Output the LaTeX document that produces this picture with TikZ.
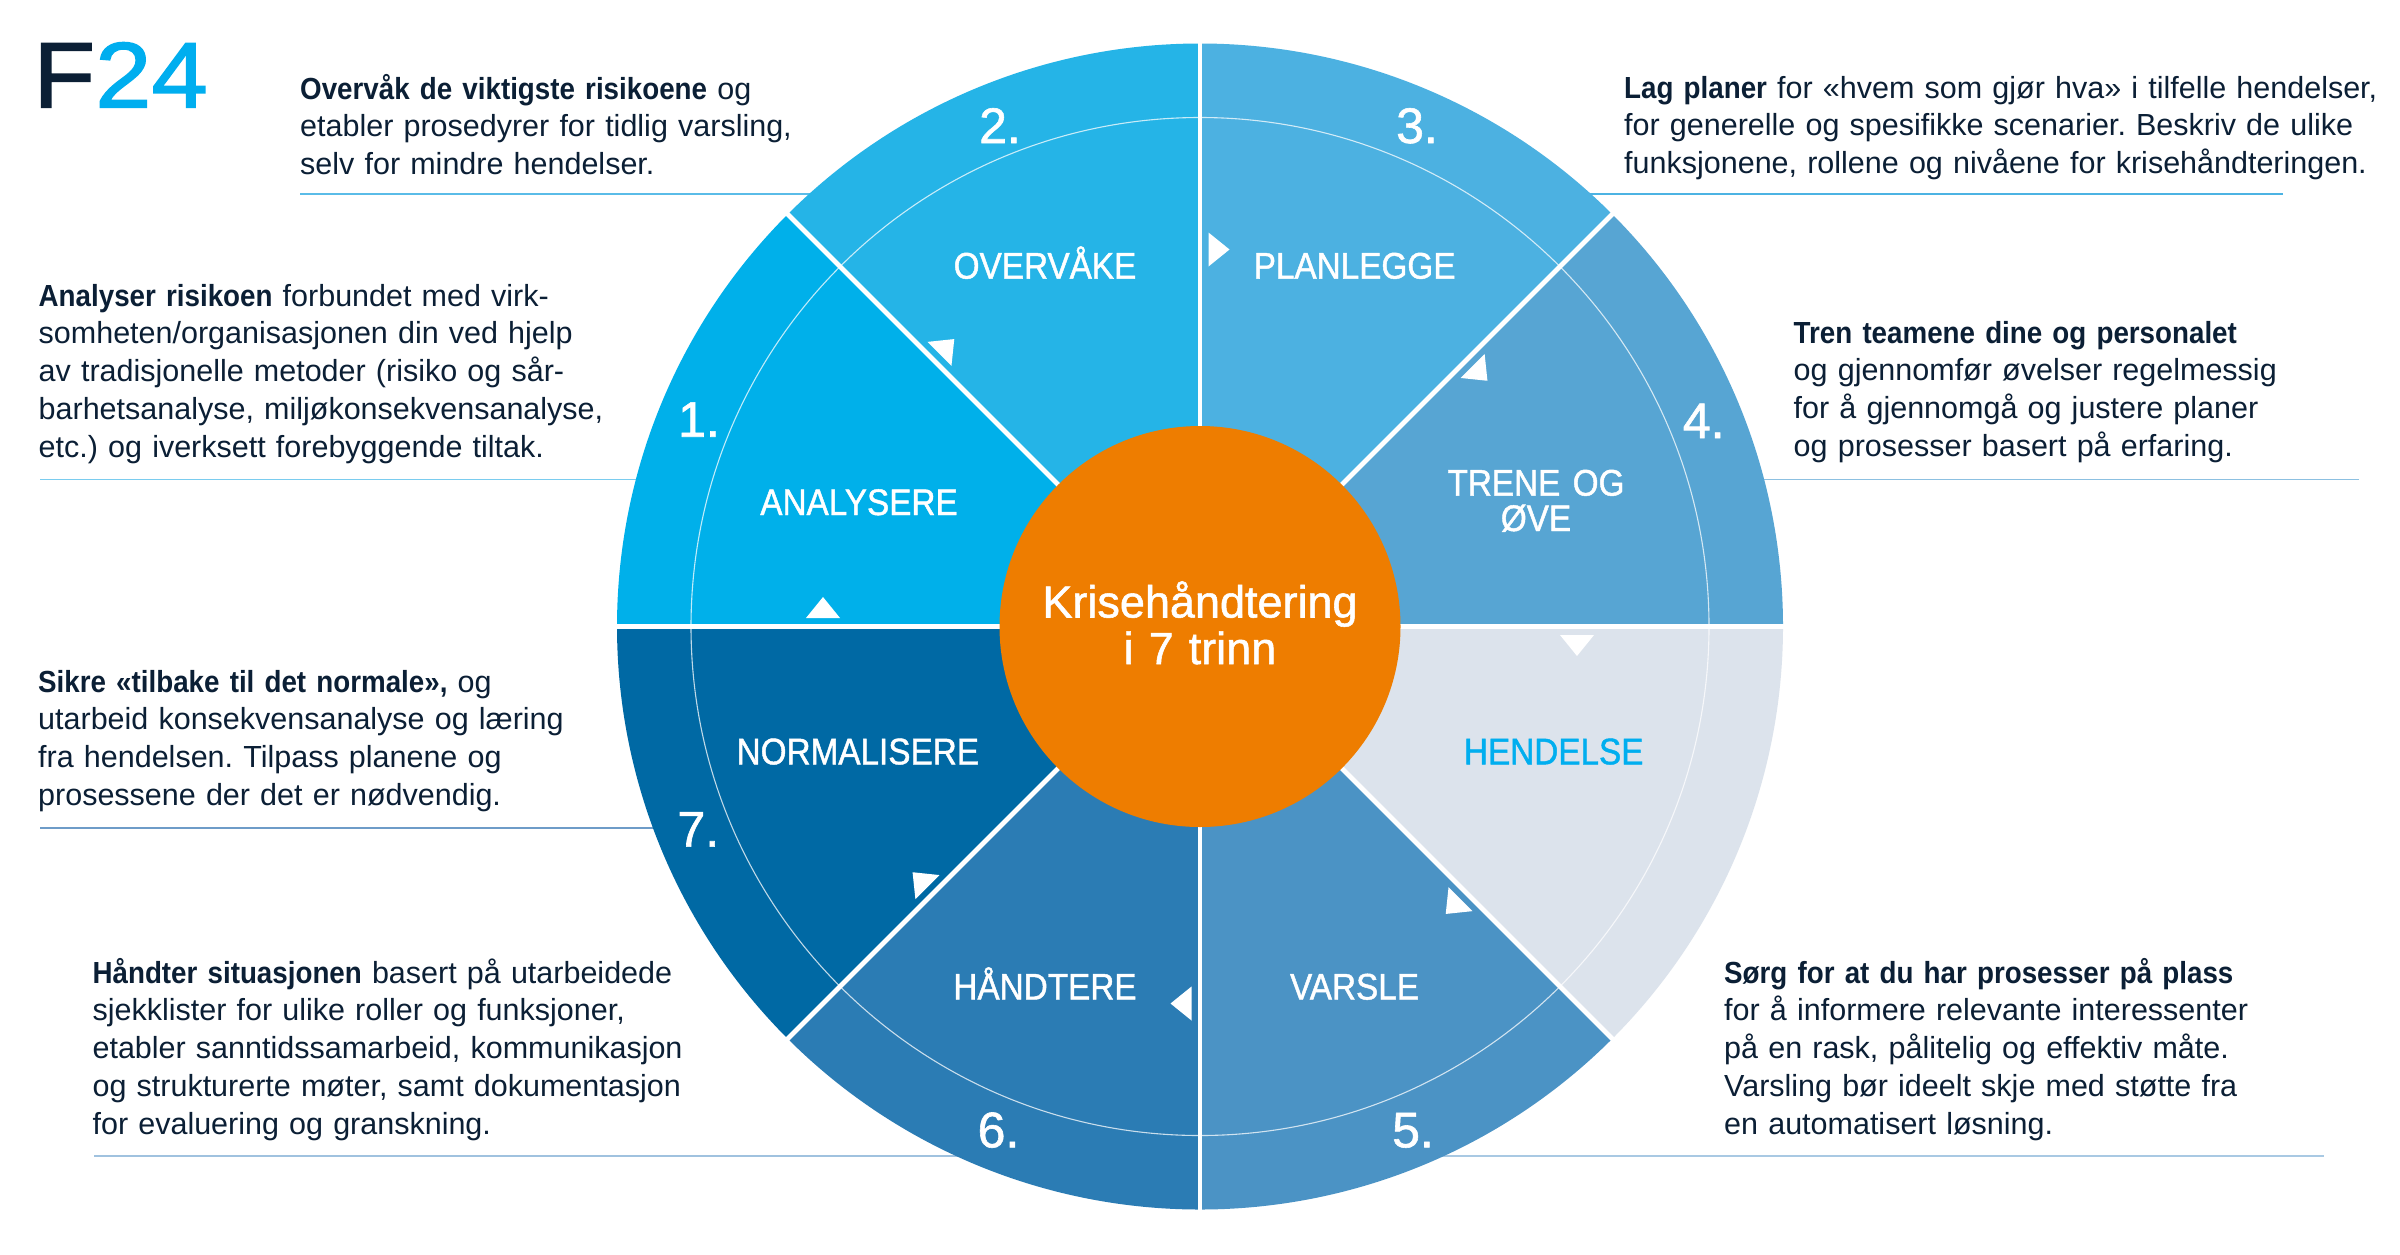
\documentclass[tikz,border=0pt]{standalone}
\usepackage{fontspec}
\setmainfont{Liberation Sans}[BoldFeatures={FakeStretch=0.91}]
\newfontfamily\labelfont[FakeStretch=0.9,FakeBold=1.2]{Liberation Sans}
\newfontfamily\numfont[FakeBold=1.2]{Liberation Sans}
\newfontfamily\logofont[FakeStretch=1.09,FakeBold=1.5]{Liberation Sans}
\definecolor{navy}{HTML}{0B1F35}
\definecolor{logoblue}{HTML}{00AEEF}
\definecolor{cAna}{HTML}{00B0EA}
\definecolor{cOve}{HTML}{25B4E7}
\definecolor{cPla}{HTML}{4CB1E1}
\definecolor{cTre}{HTML}{57A5D3}
\definecolor{cHen}{HTML}{DCE3EC}
\definecolor{cVar}{HTML}{4B93C5}
\definecolor{cHaa}{HTML}{2B7CB4}
\definecolor{cNor}{HTML}{0069A4}
\definecolor{cOra}{HTML}{EE7D00}
\definecolor{lTwo}{HTML}{5ABCE8}
\definecolor{lThree}{HTML}{4CB3E3}
\definecolor{lOne}{HTML}{7ACCEF}
\definecolor{lFour}{HTML}{8CC0E1}
\definecolor{lSeven}{HTML}{6E9CC8}
\definecolor{lSix}{HTML}{A0C2DF}
\definecolor{lFive}{HTML}{A9C9E3}
\tikzset{
  body/.style={anchor=base west, inner sep=0pt, text width=1000pt, align=left,
    text=navy, font=\frenchspacing\fontsize{30.5}{37.75}\selectfont},
  seclabel/.style={anchor=base, inner sep=0pt, text=white,
    font=\labelfont\fontsize{37}{35.4}\selectfont},
  stepnum/.style={anchor=base, inner sep=0pt, text=white,
    font=\numfont\fontsize{50}{50}\selectfont},
  sepline/.style={line width=1.6pt},
  divider/.style={white, line width=4.7pt},
}
\begin{document}
\begin{tikzpicture}[x=1pt,y=-1pt]
\useasboundingbox (0,0) rectangle (2400,1254);
\fill[white] (0,0) rectangle (2400,1254);

% separator lines under the text blocks (partly hidden by the wheel)
\coordinate (hubc) at (1200,626.5);
\draw[sepline, lTwo]   (300,194)    -- (1200,194);
\draw[sepline, lThree] (1200,194)   -- (2283,194);
\draw[sepline, lOne]   (40,479.5)   -- (1200,479.5);
\draw[sepline, lFour]  (1200,479.5) -- (2359,479.5);
\draw[sepline, lSeven] (40,828)     -- (1200,828);
\draw[sepline, lSix]   (94,1156)    -- (1200,1156);
\draw[sepline, lFive]  (1200,1156)  -- (2324,1156);

% the wheel
\begin{scope}[shift={(hubc)}, yscale=-1]
  \foreach \a/\b/\c in {135/180/cAna, 90/135/cOve, 45/90/cPla, 0/45/cTre,
                        -45/0/cHen, -90/-45/cVar, -135/-90/cHaa, 180/225/cNor}
    \fill[\c] (0,0) -- (\a:583) arc[start angle=\a, end angle=\b, radius=583] -- cycle;
  \draw[white, opacity=0.75, line width=1.1pt] (0,0) circle (509);
  \foreach \p in {0,45,...,315}
    \draw[divider] (0,0) -- (\p:584);
  \foreach \p in {0,45,...,315}{
    \begin{scope}[rotate=\p]
      \fill[white] (360,-8.5) -- (394,-8.5) -- (377,-29.5) -- cycle;
    \end{scope}}
\end{scope}
\node[circle, fill=cOra, minimum size=401pt, inner sep=0pt] (hub) at (hubc) {};
\node[anchor=base, inner sep=0pt, text width=500pt, align=center, text=white,
      font=\numfont\fontsize{45}{46.5}\selectfont] (hubtext) at (1200,617.5)
      {Krisehåndtering\\i 7 trinn};

% sector labels
\node[seclabel] (lanalyse) at (859,515) {ANALYSERE};
\node[seclabel] (lovervaake) at (1045,278.6) {OVERVÅKE};
\node[seclabel] (lplan) at (1354.6,278.6) {PLANLEGGE};
\node[seclabel, text width=300pt, align=center] (ltrene) at (1536,495.6) {TRENE OG\\ØVE};
\node[seclabel] (lnorm) at (857.8,764.3) {NORMALISERE};
\node[seclabel, text=logoblue] (lhend) at (1553.7,764.3) {HENDELSE};
\node[seclabel] (lhaand) at (1045,999.5) {HÅNDTERE};
\node[seclabel] (lvarsle) at (1354.5,999.5) {VARSLE};

% step numbers
\node[stepnum] (n1) at (699,436.7) {1.};
\node[stepnum] (n2) at (1000,143) {2.};
\node[stepnum] (n3) at (1417,143) {3.};
\node[stepnum] (n4) at (1703.7,438) {4.};
\node[stepnum] (n5) at (1413,1147.3) {5.};
\node[stepnum] (n6) at (998.5,1147.3) {6.};
\node[stepnum] (n7) at (698.3,846.6) {7.};

% logo
\node[anchor=base west, inner sep=0pt, font=\logofont\fontsize{93}{93}\selectfont] (logo)
  at (33,107.3) {\textcolor{navy}{F}\textcolor{logoblue}{24}};

% text blocks
\node[body] (t2) at (300,99) {\textbf{Overvåk de viktigste risikoene} og\\
  etabler prosedyrer for tidlig varsling,\\
  selv for mindre hendelser.};
\node[body] (t3) at (1624,98) {\textbf{Lag planer} for «hvem som gjør hva» i tilfelle hendelser,\\
  for generelle og spesifikke scenarier. Beskriv de ulike\\
  funksjonene, rollene og nivåene for krisehåndteringen.};
\node[body] (t1) at (38.5,306) {\textbf{Analyser risikoen} forbundet med virk-\\
  somheten/organisasjonen din ved hjelp\\
  av tradisjonelle metoder (risiko og sår-\\
  barhetsanalyse, miljøkonsekvensanalyse,\\
  etc.) og iverksett forebyggende tiltak.};
\node[body] (t4) at (1793.5,343) {\textbf{Tren teamene dine og personalet}\\
  og gjennomfør øvelser regelmessig\\
  for å gjennomgå og justere planer\\
  og prosesser basert på erfaring.};
\node[body] (t7) at (38,692) {\textbf{Sikre «tilbake til det normale»,} og\\
  utarbeid konsekvensanalyse og læring\\
  fra hendelsen. Tilpass planene og\\
  prosessene der det er nødvendig.};
\node[body] (t6) at (92.4,983) {\textbf{Håndter situasjonen} basert på utarbeidede\\
  sjekklister for ulike roller og funksjoner,\\
  etabler sanntidssamarbeid, kommunikasjon\\
  og strukturerte møter, samt dokumentasjon\\
  for evaluering og granskning.};
\node[body] (t5) at (1724,983) {\textbf{Sørg for at du har prosesser på plass}\\
  for å informere relevante interessenter\\
  på en rask, pålitelig og effektiv måte.\\
  Varsling bør ideelt skje med støtte fra\\
  en automatisert løsning.};
\end{tikzpicture}
\end{document}
